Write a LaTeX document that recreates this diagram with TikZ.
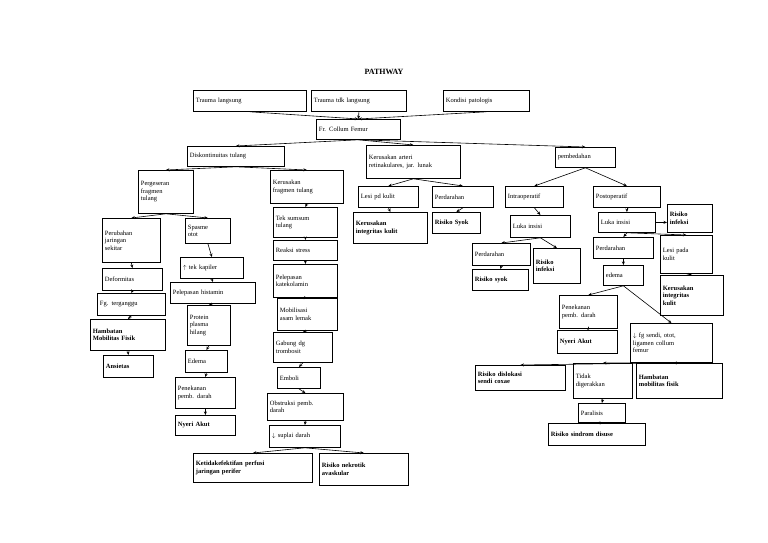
\documentclass[tikz,border=0pt]{standalone}
\usepackage{fontspec}
\setmainfont{Liberation Serif}
\usetikzlibrary{arrows.meta}
\tikzset{
  box/.style={draw, thick, anchor=north west, align=left, inner sep=2.5pt,
    font=\fontsize{6.5}{7.5}\selectfont},
  dx/.style={box, font=\fontsize{6.5}{7.5}\selectfont\bfseries},
  arr/.style={-{Stealth[length=3.5pt,width=3pt]}, semithick}
}
% box from (x1,y1) to (x2,y2), pixel units
\newcommand{\pbox}[7][box]{%
  \node[#1, minimum width={(#5-#3)*1pt}, minimum height={(#6-#4)*1pt},
    text width={(#5-#3-5)*1pt}] (#2) at (#3,#4) {#7};}

\begin{document}
\begin{tikzpicture}[x=1pt,y=-1pt]
  \useasboundingbox (0,0) rectangle (768,543);
  \node[font=\fontsize{8}{9}\selectfont\bfseries] (title) at (384,72) {PATHWAY};
  % top row
  \pbox{tl}{193}{90}{306}{111}{Trauma langsung}
  \pbox{ttl}{311}{90}{406}{111}{Trauma tdk langsung}
  \pbox{kp}{443}{90}{529}{111}{Kondisi patologis}
  \pbox{fem}{316}{119}{400}{139}{Fr. Collum Femur}
  % left branch
  \pbox{disk}{187}{146}{284}{166}{Diskontinuitas tulang}
  \pbox{perg}{138}{170}{193}{213}{Pergeseran\\fragmen\\tulang}
  \pbox{kfrag}{270}{170}{343}{203}{Kerusakan\\fragmen tulang}
  \pbox{perub}{102}{218}{160}{262}{Perubahan\\jaringan\\sekitar}
  \pbox{spas}{185}{218}{230}{243}{Spasme\\otot}
  \pbox{tekk}{180}{257}{243}{278}{$\uparrow$ tek kapiler}
  \pbox{defo}{102}{268}{162}{290}{Deformitas}
  \pbox{hist}{170}{282}{255}{303}{Pelepasan histamin}
  \pbox{fg}{97}{293}{165}{315}{Fg. terganggu}
  \pbox[dx]{ham}{90}{319}{165}{350}{Hambatan\\Mobilitas Fisik}
  \pbox[dx]{ans}{103}{355}{153}{377}{Ansietas}
  \pbox{prot}{187}{305}{230}{345}{Protein\\plasma\\hilang}
  \pbox{ede}{185}{350}{227}{372}{Edema}
  \pbox{pen}{175}{377}{235}{408}{Penekanan\\pemb. darah}
  \pbox[dx]{nye}{175}{415}{235}{435}{Nyeri Akut}
  \pbox{teks}{273}{207}{337}{237}{Tek sumsum\\tulang}
  \pbox{reak}{273}{240}{337}{260}{Reaksi stress}
  \pbox{kate}{273}{264}{337}{297}{Pelepasan\\katekolamin}
  \pbox{mob}{277}{298}{337}{330}{Mobilisasi\\asam lemak}
  \pbox{gab}{273}{332}{332}{362}{Gabung dg\\trombosit}
  \pbox{emb}{277}{367}{320}{388}{Emboli}
  \pbox{obs}{267}{393}{343}{420}{Obstruksi pemb.\\darah}
  \pbox{sup}{269}{425}{340}{447}{$\downarrow$ suplai darah}
  \pbox[dx]{ket}{193}{453}{312}{482}{Ketidakefektifan perfusi\\jaringan perifer}
  \pbox[dx]{nek}{319}{453}{408}{485}{Risiko nekrotik\\avaskular}
  % middle branch
  \pbox{art}{366}{145}{460}{178}{Kerusakan arteri\\retinakulares, jar. lunak}
  \pbox{lesi}{358}{186}{418}{207}{Lesi pd kulit}
  \pbox{perd}{432}{186}{493}{207}{Perdarahan}
  \pbox[dx]{kik}{353}{212}{427}{243}{Kerusakan\\integritas kulit}
  \pbox[dx]{rsy}{432}{212}{480}{233}{Risiko Syok}
  % right branch
  \pbox{bed}{555}{147}{615}{167}{pembedahan}
  \pbox{intra}{505}{186}{563}{207}{Intraoperatif}
  \pbox{post}{593}{186}{660}{207}{Postoperatif}
  \pbox{luka}{510}{215}{570}{237}{Luka insisi}
  \pbox{perdi}{472}{243}{530}{265}{Perdarahan}
  \pbox[dx]{rsyi}{472}{269}{528}{290}{Risiko syok}
  \pbox[dx]{rinfi}{533}{248}{580}{283}{Risiko\\infeksi}
  \pbox{lukap}{598}{212}{655}{232}{Luka insisi}
  \pbox[dx]{rinfp}{667}{204}{712}{232}{Risiko\\infeksi}
  \pbox{perdp}{593}{237}{653}{258}{Perdarahan}
  \pbox{lesp}{660}{235}{712}{273}{Lesi pada\\kulit}
  \pbox{edp}{603}{265}{643}{285}{edema}
  \pbox[dx]{kikp}{660}{275}{723}{315}{Kerusakan\\integritas\\kulit}
  \pbox{penp}{559}{295}{617}{328}{Penekanan\\pemb. darah}
  \pbox[dx]{nyep}{557}{330}{617}{353}{Nyeri Akut}
  \pbox{fgs}{630}{323}{712}{362}{$\downarrow$ fg sendi, otot,\\ligamen collum\\femur}
  \pbox[dx]{disl}{475}{365}{565}{390}{Risiko dislokasi\\sendi coxae}
  \pbox{tdk}{573}{363}{632}{398}{Tidak\\digerakkan}
  \pbox[dx]{hamp}{636}{363}{722}{398}{Hambatan\\mobilitas fisik}
  \pbox{para}{578}{403}{625}{422}{Paralisis}
  \pbox[dx]{sind}{548}{423}{645}{445}{Risiko sindrom disuse}
  % connectors
  \foreach \a/\b in {tl/fem, ttl/fem, kp/fem}
    \draw[arr] (\a.south) -- (fem.north);
  \foreach \a/\b in {fem/disk, fem/art, fem/bed, disk/perg, disk/kfrag,
      perg/perub, perg/spas, perub/defo, defo/fg, fg/ham, ham/ans,
      spas/tekk, tekk/hist, hist/prot, prot/ede, ede/pen, pen/nye,
      kfrag/teks, teks/reak, reak/kate, kate/mob, mob/gab, gab/emb,
      emb/obs, obs/sup, sup/ket, sup/nek, art/lesi, art/perd,
      lesi/kik, perd/rsy, bed/intra, bed/post, intra/luka, luka/perdi,
      luka/rinfi, perdi/rsyi, post/lukap, lukap/perdp, lukap/lesp,
      perdp/edp, lesp/kikp, edp/penp, edp/fgs, penp/nyep, fgs/disl,
      fgs/tdk, fgs/hamp, tdk/para, para/sind}
    \draw[arr] (\a.south) -- (\b.north);
  \draw[arr] (lukap.east) -- (rinfp.west |- lukap.east);
\end{tikzpicture}
\end{document}
